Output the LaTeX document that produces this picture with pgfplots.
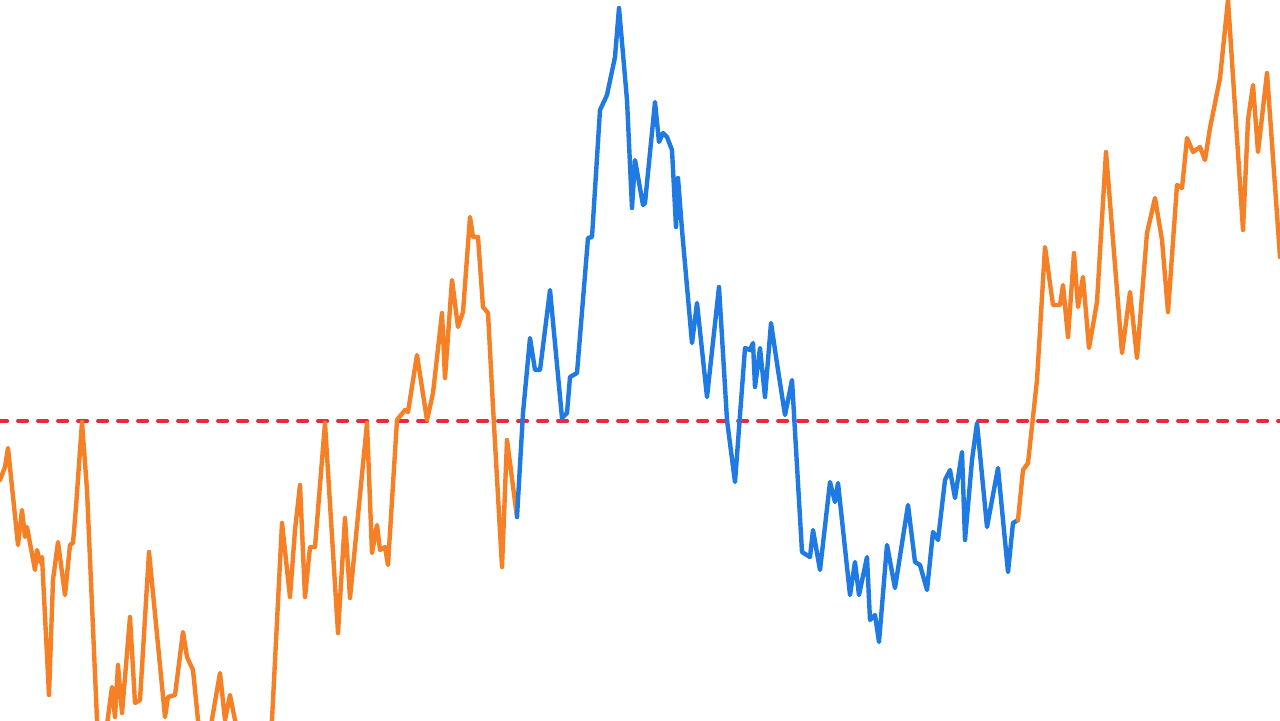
\documentclass[border=0pt]{standalone}
\usepackage{pgfplots}
\pgfplotsset{compat=1.18}
\definecolor{cOrange}{RGB}{245,128,38}
\definecolor{cBlue}{RGB}{32,122,228}
\definecolor{cRed}{RGB}{232,42,60}
\begin{document}
\begin{tikzpicture}
\begin{axis}[
  hide axis, scale only axis,
  width=640pt, height=360pt,
  xmin=0, xmax=1280, ymin=0, ymax=720,
  y dir=reverse, clip=true,
  every axis plot/.append style={line join=round, line cap=round},
]
\addplot[cRed, line width=1.9pt, dash pattern=on 4.6pt off 5.4pt, line cap=round] coordinates {(-2,421) (1282,421)};
\addplot[cOrange, line width=2.2pt] coordinates {
(0,480) (5,467) (8,448) (18,545) (22,510) (25,537) (27,527) (35,570) (37,550) (40,562) (42,557)
(49,695) (53,580) (58,542) (65,595) (70,545) (73,543) (76,507) (82,422) (87,490) (97,720)
(100,760) (105,740) (112,687) (115,717) (118,665) (122,713) (130,617) (135,703) (140,700)
(149,552) (165,717) (168,697) (175,695) (183,632) (187,657) (193,670) (198,720) (205,760)
(220,673) (225,720) (230,695) (235,720) (250,770) (265,760) (272,720) (282,523) (290,597)
(295,530) (300,485) (305,597) (310,547) (315,547) (325,423) (338,633) (345,518) (350,598)
(367,423) (372,553) (377,525) (380,550) (385,547) (388,565) (397,420) (405,410) (408,412)
(417,355) (427,420) (433,393) (442,313) (445,378) (452,280) (458,327) (463,312) (470,217)
(473,237) (478,237) (483,307) (488,313) (493,407) (502,567) (507,440) (517,517)
};
\addplot[cBlue, line width=2.2pt] coordinates {
(517,517) (523,413) (530,338) (535,370) (540,370) (550,290) (562,418) (567,413) (570,377)
(577,373) (588,238) (592,237) (600,110) (607,95) (615,57) (619,8) (627,100) (632,208)
(635,160) (643,205) (645,203) (655,102) (659,142) (663,133) (667,137) (672,150) (676,227)
(678,178) (682,230) (692,343) (697,303) (707,397) (719,287) (727,420) (735,482) (745,348)
(750,350) (753,343) (755,387) (760,348) (765,397) (771,323) (778,370) (785,415) (792,380)
(802,552) (810,557) (813,530) (820,570) (830,482) (835,502) (838,483) (850,595) (855,562)
(859,595) (867,557) (870,620) (875,615) (879,642) (887,545) (895,588) (908,505) (915,562)
(920,565) (927,590) (933,532) (938,540) (945,480) (950,470) (955,498) (962,452) (965,540)
(972,460) (977,423) (987,527) (998,468) (1008,572) (1013,523) (1018,520)
};
\addplot[cOrange, line width=2.2pt] coordinates {
(1018,520) (1023,470) (1028,463) (1037,380) (1045,247) (1053,305) (1060,305) (1063,285)
(1068,337) (1074,253) (1078,307) (1083,277) (1089,348) (1097,302) (1106,152) (1122,353)
(1130,292) (1137,358) (1147,233) (1155,198) (1162,240) (1168,312) (1177,185) (1182,188)
(1187,138) (1193,152) (1200,147) (1205,160) (1210,128) (1220,78) (1228,0) (1243,230)
(1248,120) (1253,85) (1258,152) (1267,73) (1280,257)
};
\end{axis}
\pgfresetboundingbox
\useasboundingbox (current axis.south west) rectangle (current axis.north east);
\end{tikzpicture}
\end{document}
